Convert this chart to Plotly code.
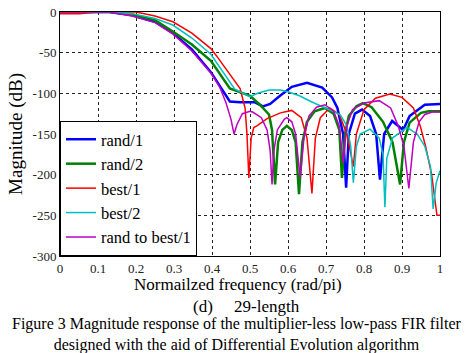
import plotly.graph_objects as go

# ---- data (normalized frequency, magnitude in dB) ----
rand1_x = [0, 0.13, 0.19, 0.25, 0.297, 0.347, 0.397, 0.426, 0.447, 0.474, 0.513, 0.534, 0.553, 0.579, 0.61, 0.65,
           0.69, 0.716, 0.73, 0.745, 0.753, 0.76, 0.776, 0.795, 0.816, 0.832, 0.842, 0.853, 0.874, 0.895, 0.903,
           0.92, 0.96, 1.0]
rand1_y = [0, 0, -4, -12, -26, -46, -74, -95, -110, -111, -111, -116, -113, -103, -92, -87,
           -93, -105, -118, -150, -216, -150, -125, -120, -128, -150, -206, -150, -134, -142, -145,
           -128, -114, -113]

rand2_x = [0, 0.13, 0.19, 0.25, 0.297, 0.347, 0.397, 0.447, 0.5, 0.526, 0.55, 0.558, 0.566, 0.574, 0.585, 0.597,
           0.61, 0.62, 0.629, 0.638, 0.65, 0.67, 0.697, 0.72, 0.735, 0.742, 0.75, 0.76, 0.78, 0.797, 0.82,
           0.85, 0.875, 0.895, 0.905, 0.92, 0.95, 0.97, 1.0]
rand2_y = [0, 0, -3, -10, -24, -40, -60, -94, -103, -114, -126, -145, -212, -160, -145, -140,
           -145, -160, -224, -160, -135, -122, -118, -125, -145, -204, -150, -128, -116, -112, -117,
           -135, -160, -212, -160, -136, -124, -122, -122]

best1_x = [0, 0.05, 0.1, 0.2, 0.25, 0.297, 0.347, 0.397, 0.412, 0.455, 0.474, 0.487, 0.492, 0.497, 0.503, 0.51,
           0.518, 0.545, 0.58, 0.61, 0.635, 0.65, 0.663, 0.672, 0.685, 0.71, 0.735, 0.755, 0.772, 0.78,
           0.8, 0.83, 0.868, 0.9, 0.93, 0.948, 0.962, 0.978, 0.992, 1.0]
best1_y = [-2, -2, 0, 0, -5, -12, -26, -45, -54, -82, -94, -118, -150, -204, -155, -142,
           -140, -131, -124, -121, -130, -155, -223, -155, -130, -118, -126, -150, -190, -150,
           -120, -106, -101, -105, -118, -140, -165, -200, -250, -250]

best2_x = [0, 0.13, 0.19, 0.25, 0.297, 0.347, 0.397, 0.43, 0.46, 0.5, 0.52, 0.55, 0.58, 0.6, 0.63, 0.66,
           0.7, 0.737, 0.755, 0.765, 0.772, 0.78, 0.79, 0.816, 0.84, 0.85, 0.855, 0.86, 0.875, 0.913,
           0.94, 0.96, 0.975, 0.982, 0.99, 1.0]
best2_y = [0, 0, -2, -8, -16, -32, -52, -75, -95, -104, -100, -96, -96, -98, -103, -110,
           -118, -126, -140, -165, -210, -165, -150, -144, -155, -175, -240, -180, -155, -142,
           -150, -165, -190, -242, -210, -195]

r2b1_x = [0, 0.13, 0.19, 0.25, 0.297, 0.347, 0.397, 0.42, 0.437, 0.45, 0.458, 0.466, 0.48, 0.5, 0.507, 0.53,
          0.545, 0.553, 0.558, 0.563, 0.572, 0.59, 0.597, 0.61, 0.62, 0.632, 0.642, 0.655, 0.675, 0.697,
          0.72, 0.735, 0.745, 0.755, 0.77, 0.8, 0.84, 0.87, 0.89, 0.905, 0.918, 0.93, 0.945, 0.96, 0.98, 1.0]
r2b1_y = [0, 0, -5, -13, -27, -48, -75, -92, -112, -132, -150, -138, -125, -122, -123, -130,
          -145, -170, -212, -170, -145, -132, -130, -135, -150, -204, -155, -128, -117, -114,
          -122, -140, -185, -140, -120, -112, -109, -118, -140, -165, -217, -160, -135, -126, -123, -123]

series_names = ["rand/1", "rand/2", "best/1", "best/2", "rand to best/1"]
series_x = [rand1_x, rand2_x, best1_x, best2_x, r2b1_x]
series_y = [rand1_y, rand2_y, best1_y, best2_y, r2b1_y]
series_colors = ["#0000ff", "#008000", "#ff0000", "#00bfbf", "#bf00bf"]
series_widths = [2.5, 2.5, 1.5, 1.5, 1.5]

x_ticks = [0, 0.1, 0.2, 0.3, 0.4, 0.5, 0.6, 0.7, 0.8, 0.9, 1]
x_ticklabels = ["0", "0.1", "0.2", "0.3", "0.4", "0.5", "0.6", "0.7", "0.8", "0.9", "1"]
y_ticks = [0, -50, -100, -150, -200, -250, -300]
y_ticklabels = ["0", "-50", "-100", "-150", "-200", "-250", "-300"]

SERIF = "Liberation Serif, Times New Roman, serif"

fig = go.Figure()
for n, xs, ys, c, w in zip(series_names, series_x, series_y, series_colors, series_widths):
    fig.add_trace(go.Scatter(x=xs, y=ys, mode="lines", name=n,
                             line=dict(color=c, width=w)))

axis_common = dict(showline=True, linecolor="black", linewidth=1, mirror=True,
                   showgrid=True, gridcolor="#222", griddash="3px,3px", gridwidth=1,
                   zeroline=False, ticks="", ticklabeloverflow="allow",
                   tickfont=dict(family=SERIF, size=13, color="#222"))

fig.update_xaxes(range=[0, 1], tickvals=x_ticks, ticktext=x_ticklabels, **axis_common)
fig.update_yaxes(range=[-300, 0], tickvals=y_ticks, ticktext=y_ticklabels,
                 title=dict(text="Magnitude (dB)", font=dict(family=SERIF, size=19, color="black"),
                            standoff=4),
                 **axis_common)

fig.update_layout(
    width=474, height=353,
    margin=dict(l=60, r=34, t=5, b=97),
    paper_bgcolor="white", plot_bgcolor="white",
    showlegend=True,
    legend=dict(x=0, y=0, xanchor="left", yanchor="bottom",
                bgcolor="white", bordercolor="black", borderwidth=1,
                font=dict(family=SERIF, size=16.5, color="black"),
                entrywidth=150, entrywidthmode="pixels",
                tracegroupgap=0),
    font=dict(family=SERIF, color="black"),
)

captions = [
    ("Normailzed frequency (rad/pi)", 0.468, -0.1155, 17),
    ("(d)\u00a0\u00a0\u00a0\u00a0\u00a029-length", 0.492, -0.207, 17),
    ("Figure 3 Magnitude response of the multiplier-less low-pass FIR filter<br>"
     "designed with the aid of Differential Evolution algorithm", 0.466, -0.3213, 16),
]
for t, x, y, s in captions:
    fig.add_annotation(text=t, x=x, y=y, xref="paper", yref="paper", showarrow=False,
                       xanchor="center", yanchor="middle", align="center",
                       font=dict(family=SERIF, size=s, color="black"))

fig.write_html("out.html")
